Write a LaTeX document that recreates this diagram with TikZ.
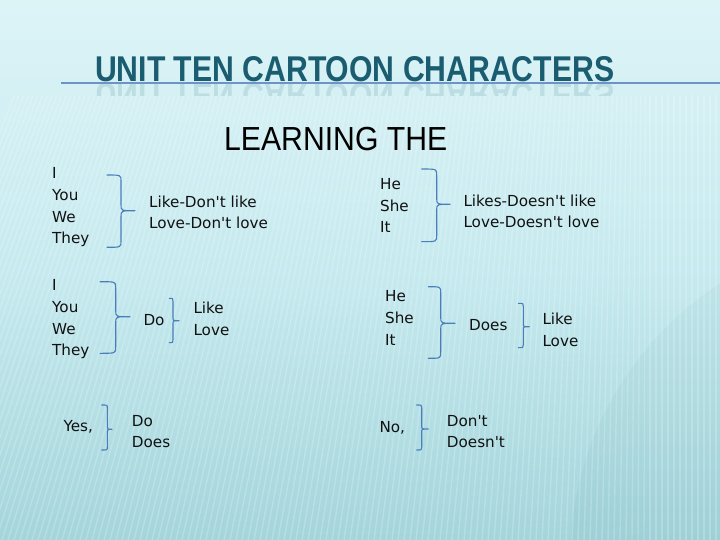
\documentclass[tikz,border=0pt]{standalone}
\usepackage{fontspec}
\setmainfont{DejaVu Sans}
\newfontfamily\titlefont{Liberation Sans}
\newcommand\apos{\textquotesingle}
\definecolor{bgtop}{HTML}{DDF4F7}
\definecolor{bgmid}{HTML}{C6EAEF}
\definecolor{bgbot}{HTML}{A4D5DB}
\definecolor{titlecol}{HTML}{1A5D70}
\definecolor{rulecol}{HTML}{6D94C6}
\definecolor{bracecol}{HTML}{4A7EBB}
\definecolor{txtcol}{HTML}{111111}
\tikzset{
  txt/.style={anchor=base west, inner sep=0pt, text=txtcol, font=\fontsize{15.2}{17}\selectfont},
  bracestyle/.style={draw=bracecol, line width=1.1pt, line cap=round, line join=round},
  stripe/.style={white, line width=1.4pt}
}
\newcommand\pbr[7]{%
  \draw[bracestyle] (#1,#4) .. controls (#2,#4) .. (#2,#4+#7) -- (#2,#5-#7)
     .. controls (#2,#5) .. (#3,#5)
     (#3,#5) .. controls (#2,#5) .. (#2,#5+#7) -- (#2,#6-#7)
     .. controls (#2,#6) .. (#1,#6);}
\begin{document}
\begin{tikzpicture}[x=1pt,y=-1pt]
\useasboundingbox (0,0) rectangle (720,540);
% background
\shade[top color=bgtop, bottom color=bgbot, middle color=bgmid] (0,0) rectangle (720,540);
\begin{scope}
\clip (0,0) rectangle (720,540);
\fill[titlecol, opacity=0.035] (900,560) circle (330);
\foreach \i in {0,...,150} {
  \pgfmathsetmacro{\xa}{-160+\i*6}
  \pgfmathsetmacro{\k}{max(0,140*(1-\xa/650))}
  \draw[stripe, opacity=0.2] (\xa,540) -- (\xa+\k,95);
}
\end{scope}
% title
\node[anchor=base west, inner sep=0pt, text=titlecol] (title) at (95,82)
  {\resizebox{519pt}{25pt}{\titlefont\bfseries UNIT TEN CARTOON CHARACTERS}};
\begin{scope}
\clip (60,83) rectangle (720,96);
\node[anchor=base west, inner sep=0pt, text=titlecol, opacity=0.13] (titlerefl) at (95,84)
  {\scalebox{1}[-1]{\resizebox{519pt}{25pt}{\titlefont\bfseries UNIT TEN CARTOON CHARACTERS}}};
\end{scope}
\coordinate (ruleA) at (61,83);
\coordinate (ruleB) at (720,83);
\draw[rulecol, line width=1.1pt] (ruleA) -- (ruleB);
\node[anchor=base west, inner sep=0pt, text=black] (sub) at (224,151)
  {\resizebox{223pt}{23.3pt}{\titlefont LEARNING THE}};
% group 1
\node[txt] (g1i) at (52,178.3) {I};
\node[txt] (g1you) at (52,200.7) {You};
\node[txt] (g1we) at (52,222.3) {We};
\node[txt] (g1they) at (52,243.3) {They};
\pbr{107}{121}{135}{175}{210.7}{247.3}{6}
\node[txt] (g1a) at (149,207.7) {Like-Don\apos t like};
\node[txt] (g1b) at (149,229) {Love-Don\apos t love};
% group 2
\node[txt] (g2he) at (380,189.3) {He};
\node[txt] (g2she) at (380,211.7) {She};
\node[txt] (g2it) at (380,232.7) {It};
\pbr{421.7}{436.7}{450}{169}{204.3}{241.7}{6}
\node[txt] (g2a) at (463.3,206.7) {Likes-Doesn\apos t like};
\node[txt] (g2b) at (463.3,227.7) {Love-Doesn\apos t love};
% group 3
\node[txt] (g3i) at (52,290.7) {I};
\node[txt] (g3you) at (52,312.3) {You};
\node[txt] (g3we) at (52,334) {We};
\node[txt] (g3they) at (52,355) {They};
\pbr{100}{115.7}{130}{281.7}{316.7}{353.3}{6}
\node[txt] (g3do) at (143.3,325) {Do};
\pbr{169.3}{173}{179}{298.3}{320.7}{342.7}{3}
\node[txt] (g3like) at (193.3,313.3) {Like};
\node[txt] (g3love) at (193.3,335) {Love};
% group 4
\node[txt] (g4he) at (385,301.7) {He};
\node[txt] (g4she) at (385,323.3) {She};
\node[txt] (g4it) at (385,345) {It};
\pbr{428.3}{440.7}{455}{286.7}{323.3}{358.3}{6}
\node[txt] (g4does) at (469,330) {Does};
\pbr{518.3}{523.3}{529.3}{303.3}{326.7}{347.7}{3}
\node[txt] (g4like) at (542.3,324.3) {Like};
\node[txt] (g4love) at (542.3,346) {Love};
% group 5
\node[txt] (yes) at (63.3,431.7) {Yes,};
\pbr{101.7}{107.3}{112}{405}{429.3}{450}{3}
\node[txt] (g5do) at (131.7,426.7) {Do};
\node[txt] (g5does) at (131.7,447.3) {Does};
\node[txt] (no) at (379.3,432) {No,};
\pbr{416.7}{421.7}{428.3}{405}{429}{450}{3}
\node[txt] (g6dont) at (446.7,426.7) {Don\apos t};
\node[txt] (g6doesnt) at (446.7,447.3) {Doesn\apos t};
\end{tikzpicture}
\end{document}
